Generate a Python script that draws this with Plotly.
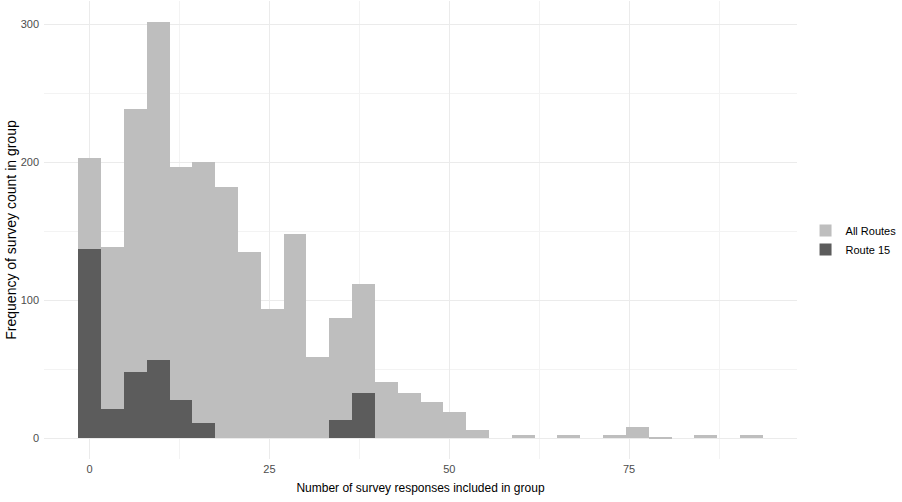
import plotly.graph_objects as go

# Histogram bins: 30 bins, centred on 0 .. 92
n_bins = 30
data_min, data_max = 0, 92
bin_width = (data_max - data_min) / (n_bins - 1)
bin_centers = [data_min + k * bin_width for k in range(n_bins)]

all_routes = [203, 139, 239, 302, 197, 200, 182, 135, 94, 148,
              59, 87, 112, 41, 33, 26, 19, 6, 0, 2,
              0, 2, 0, 2, 8, 1, 0, 2, 0, 2]
route_15 = [137, 21, 48, 57, 28, 11, 0, 0, 0, 0,
            0, 13, 33, 0, 0, 0, 0, 0, 0, 0,
            0, 0, 0, 0, 0, 0, 0, 0, 0, 0]

series_names = ["All Routes", "Route 15"]
series_colors = ["#bebebe", "#5c5c5c"]

x_ticks = [0, 25, 50, 75]
x_minor = [12.5, 37.5, 62.5, 87.5]
y_ticks = [0, 100, 200, 300]
y_minor = [50, 150, 250]

fig = go.Figure()
for name, vals, col in zip(series_names, [all_routes, route_15], series_colors):
    fig.add_trace(go.Bar(
        x=bin_centers, y=vals, width=bin_width, name=name,
        marker=dict(color=col, line=dict(color=col, width=0)),
    ))

font = "Liberation Sans, Arial, sans-serif"
half = bin_width / 2
xlo, xhi = data_min - half, data_max + half
xpad = (xhi - xlo) * 0.05
ymax = max(all_routes)
ypad = ymax * 0.05

fig.update_layout(
    width=902, height=502,
    margin=dict(l=44, r=104, t=1, b=43),
    barmode="overlay", bargap=0,
    plot_bgcolor="white", paper_bgcolor="white",
    font=dict(family=font, size=11, color="#000000"),
    showlegend=True,
    legend=dict(x=1.01, y=0.478, yanchor="middle", xanchor="left",
                font=dict(size=11, color="#000000"), tracegroupgap=3,
                bgcolor="rgba(0,0,0,0)"),
    xaxis=dict(
        range=[xlo - xpad, xhi + xpad], tickvals=x_ticks,
        ticktext=[str(v) for v in x_ticks],
        showgrid=True, gridcolor="#ebebeb", gridwidth=1, zeroline=False,
        showline=False, ticks="", ticklabelstandoff=2,
        tickfont=dict(size=11, color="#4d4d4d"),
        minor=dict(tickvals=x_minor, showgrid=True, gridcolor="#f3f3f3", gridwidth=1),
        title=dict(text="Number of survey responses included in group",
                   font=dict(size=12, color="#000000"), standoff=9),
    ),
    yaxis=dict(
        range=[-ypad, ymax + ypad], tickvals=y_ticks,
        ticktext=[str(v) for v in y_ticks],
        showgrid=True, gridcolor="#ebebeb", gridwidth=1, zeroline=False,
        showline=False, ticks="", ticklabelstandoff=4,
        tickfont=dict(size=11, color="#4d4d4d"),
        minor=dict(tickvals=y_minor, showgrid=True, gridcolor="#f3f3f3", gridwidth=1),
        title=dict(text="Frequency of survey count in group",
                   font=dict(size=14, color="#000000"), standoff=0),
    ),
)

fig.write_html("out.html")
